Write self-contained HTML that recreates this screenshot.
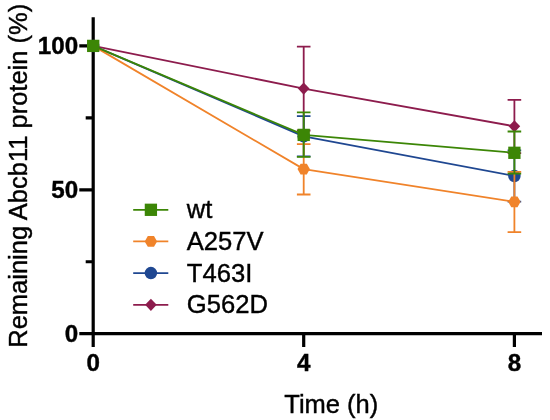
<!DOCTYPE html>
<html lang="en"><head><meta charset="utf-8"><title>Remaining Abcb11 protein</title>
<style>
html,body{margin:0;padding:0;background:#fff;}
body{width:550px;height:420px;overflow:hidden;}
svg{display:block;}
text{font-family:"Liberation Sans",Arial,Helvetica,sans-serif;fill:#000;}
.tk{font-size:24.2px;font-weight:bold;stroke:#000;stroke-width:0.4px;}
.ax{font-size:25.5px;stroke:#000;stroke-width:0.4px;}
.lg{font-size:25.6px;stroke:#000;stroke-width:0.4px;}
</style></head>
<body>
<svg width="550" height="420" viewBox="0 0 550 420">
<rect width="550" height="420" fill="#fff"/>

<path d="M93.20 17.3V347" stroke="#000" stroke-width="3.2" fill="none"/>
<path d="M79.3 333.70H542" stroke="#000" stroke-width="3.2" fill="none"/>
<path d="M79.3 45.90H93.20M79.3 189.80H93.20M85.7 117.85H93.20M85.7 261.75H93.20" stroke="#000" stroke-width="3.2" fill="none"/>
<path d="M303.70 333.70V347M514.40 333.70V347" stroke="#000" stroke-width="3.2" fill="none"/>

<path d="M303.70 46.70V130.50M296.90 46.70H310.50M296.90 130.50H310.50" stroke="#8d1c4d" stroke-width="1.8" fill="none"/>
<path d="M514.40 99.80V153.20M507.60 99.80H521.20M507.60 153.20H521.20" stroke="#8d1c4d" stroke-width="1.8" fill="none"/>
<polyline points="93.20,45.90 303.70,88.60 514.40,126.30" stroke="#8d1c4d" stroke-width="1.8" fill="none" stroke-linejoin="round"/>
<polygon points="87.40,45.90 93.20,39.80 99.00,45.90 93.20,52.00" fill="#8d1c4d"/>
<polygon points="297.90,88.60 303.70,82.50 309.50,88.60 303.70,94.70" fill="#8d1c4d"/>
<polygon points="508.60,126.30 514.40,120.20 520.20,126.30 514.40,132.40" fill="#8d1c4d"/>
<path d="M303.70 116.20V156.30M296.90 116.20H310.50M296.90 156.30H310.50" stroke="#1f4791" stroke-width="1.8" fill="none"/>
<path d="M514.40 150.40V201.70M507.60 150.40H521.20M507.60 201.70H521.20" stroke="#1f4791" stroke-width="1.8" fill="none"/>
<polyline points="93.20,45.90 303.70,136.30 514.40,176.00" stroke="#1f4791" stroke-width="1.8" fill="none" stroke-linejoin="round"/>
<circle cx="93.20" cy="45.90" r="6.25" fill="#1f4791"/>
<circle cx="303.70" cy="136.30" r="6.25" fill="#1f4791"/>
<circle cx="514.40" cy="176.00" r="6.25" fill="#1f4791"/>
<path d="M303.70 144.20V194.50M296.90 144.20H310.50M296.90 194.50H310.50" stroke="#f0832a" stroke-width="1.8" fill="none"/>
<path d="M514.40 171.80V232.20M507.60 171.80H521.20M507.60 232.20H521.20" stroke="#f0832a" stroke-width="1.8" fill="none"/>
<polyline points="93.20,45.90 303.70,169.10 514.40,201.80" stroke="#f0832a" stroke-width="1.8" fill="none" stroke-linejoin="round"/>
<polygon points="99.40,45.90 96.30,51.27 90.10,51.27 87.00,45.90 90.10,40.53 96.30,40.53" fill="#f0832a"/>
<polygon points="309.90,169.10 306.80,174.47 300.60,174.47 297.50,169.10 300.60,163.73 306.80,163.73" fill="#f0832a"/>
<polygon points="520.60,201.80 517.50,207.17 511.30,207.17 508.20,201.80 511.30,196.43 517.50,196.43" fill="#f0832a"/>
<path d="M303.70 112.40V156.90M296.90 112.40H310.50M296.90 156.90H310.50" stroke="#3c8606" stroke-width="1.8" fill="none"/>
<path d="M514.40 131.50V173.60M507.60 131.50H521.20M507.60 173.60H521.20" stroke="#3c8606" stroke-width="1.8" fill="none"/>
<polyline points="93.20,45.90 303.70,134.90 514.40,152.80" stroke="#3c8606" stroke-width="1.8" fill="none" stroke-linejoin="round"/>
<rect x="87.05" y="39.75" width="12.3" height="12.3" fill="#3c8606"/>
<rect x="297.55" y="128.75" width="12.3" height="12.3" fill="#3c8606"/>
<rect x="508.25" y="146.65" width="12.3" height="12.3" fill="#3c8606"/>
<line x1="133.2" y1="209.8" x2="168.3" y2="209.8" stroke="#3c8606" stroke-width="1.8"/>
<rect x="144.75" y="203.65" width="12.3" height="12.3" fill="#3c8606"/>
<text x="186.8" y="218.2" class="lg">wt</text>
<line x1="133.2" y1="241.4" x2="168.3" y2="241.4" stroke="#f0832a" stroke-width="1.8"/>
<polygon points="157.10,241.40 154.00,246.77 147.80,246.77 144.70,241.40 147.80,236.03 154.00,236.03" fill="#f0832a"/>
<text x="186.8" y="249.8" class="lg">A257V</text>
<line x1="133.2" y1="273.1" x2="168.3" y2="273.1" stroke="#1f4791" stroke-width="1.8"/>
<circle cx="150.90" cy="273.10" r="6.25" fill="#1f4791"/>
<text x="186.8" y="281.9" class="lg">T463I</text>
<line x1="133.2" y1="304.8" x2="168.3" y2="304.8" stroke="#8d1c4d" stroke-width="1.8"/>
<polygon points="145.10,304.80 150.90,298.70 156.70,304.80 150.90,310.90" fill="#8d1c4d"/>
<text x="186.8" y="313.3" class="lg">G562D</text>

<text x="78.2" y="53.8" class="tk" text-anchor="end">100</text>
<text x="78.2" y="197.7" class="tk" text-anchor="end">50</text>
<text x="78.2" y="341.6" class="tk" text-anchor="end">0</text>
<text x="93.2" y="370.6" class="tk" text-anchor="middle">0</text>
<text x="303.7" y="370.6" class="tk" text-anchor="middle">4</text>
<text x="514.4" y="370.6" class="tk" text-anchor="middle">8</text>
<text x="331.3" y="412.8" class="ax" text-anchor="middle">Time (h)</text>
<text transform="translate(27.0 175.8) rotate(-90)" class="ax" text-anchor="middle">Remaining Abcb11 protein (%)</text>

</svg>
</body></html>
